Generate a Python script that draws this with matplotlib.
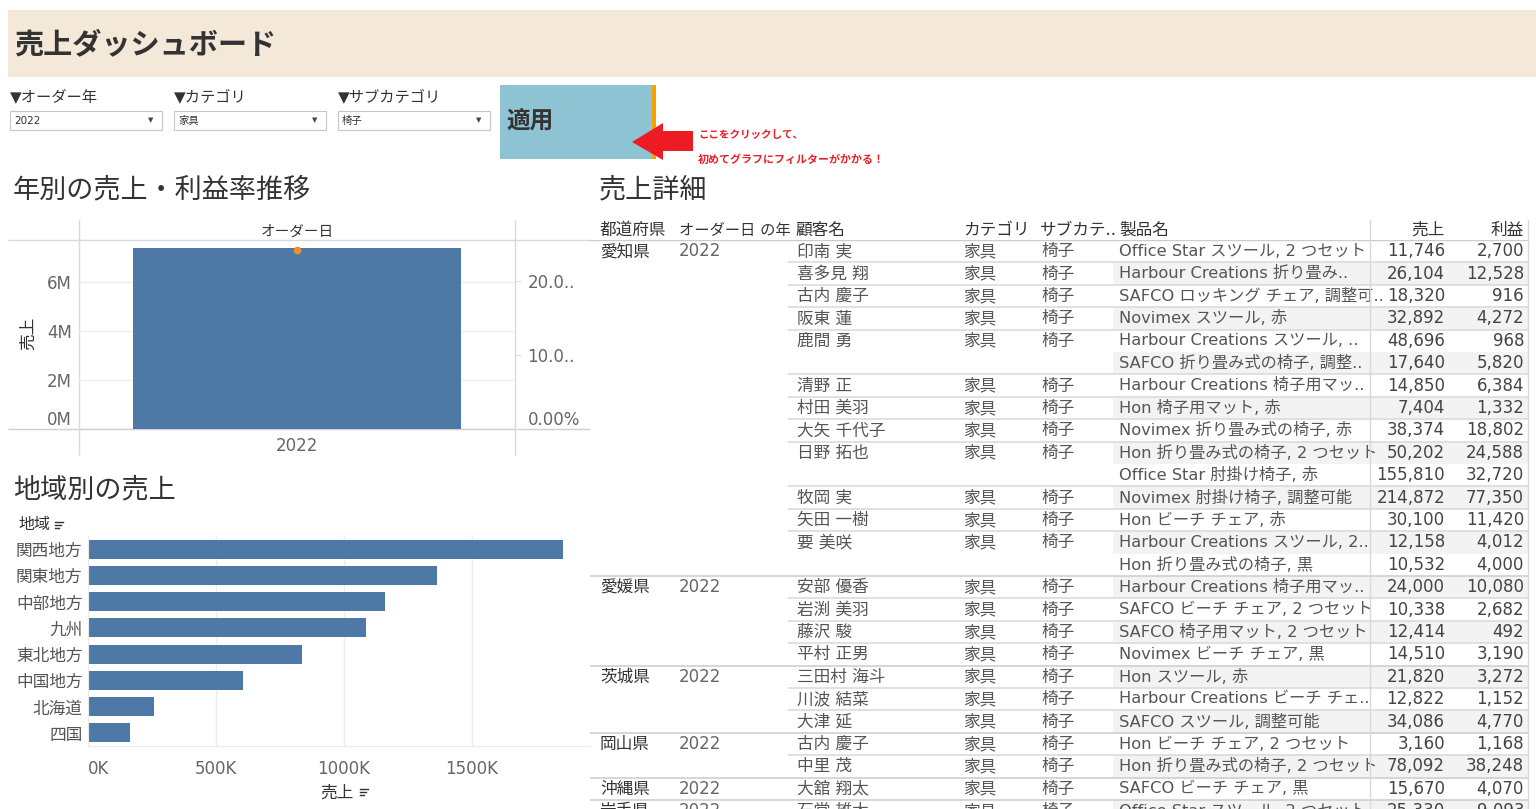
import matplotlib
matplotlib.use('Agg')
import matplotlib.pyplot as plt
from matplotlib.patches import Rectangle, Polygon

plt.rcParams['font.family'] = ['DejaVu Sans', 'Noto Sans CJK JP']

# ---------------- data ----------------
dashboard_title = '売上ダッシュボード'
filter_labels = ['▼オーダー年', '▼カテゴリ', '▼サブカテゴリ']
filter_values = ['2022', '家具', '椅子']

years = ['2022']
year_sales = [7.37e6]
year_profit_ratio = [0.242]
sales_ticks = [0, 2e6, 4e6, 6e6]
sales_tick_labels = ['0M', '2M', '4M', '6M']
ratio_ticks = [0, 0.1, 0.2]
ratio_tick_labels = ['0.00%', '10.0..', '20.0..']

regions = ['関西地方', '関東地方', '中部地方', '九州', '東北地方', '中国地方', '北海道', '四国']
region_sales = [1855e3, 1364e3, 1162e3, 1086e3, 837e3, 604e3, 258e3, 166e3]
region_ticks = [0, 500e3, 1000e3, 1500e3]
region_tick_labels = ['0K', '500K', '1000K', '1500K']

table_headers = ['都道府県', 'オーダー日 の年', '顧客名', 'カテゴリ', 'サブカテ..', '製品名', '売上', '利益']
prefectures = ['愛知県'] + [''] * 14 + ['愛媛県', '', '', '', '茨城県', '', '', '岡山県', '', '沖縄県', '岩手県']
order_years = ['2022' if p else '' for p in prefectures]
customers = ['印南 実', '喜多見 翔', '古内 慶子', '阪東 蓮', '鹿間 勇', '', '清野 正', '村田 美羽',
             '大矢 千代子', '日野 拓也', '', '牧岡 実', '矢田 一樹', '要 美咲', '',
             '安部 優香', '岩渕 美羽', '藤沢 駿', '平村 正男', '三田村 海斗', '川波 結菜', '大津 延',
             '古内 慶子', '中里 茂', '大舘 翔太', '石堂 雄大']
categories = ['家具' if c else '' for c in customers]
subcategories = ['椅子' if c else '' for c in customers]
products = ['Office Star スツール, 2 つセット', 'Harbour Creations 折り畳み..',
            'SAFCO ロッキング チェア, 調整可..', 'Novimex スツール, 赤',
            'Harbour Creations スツール, ..', 'SAFCO 折り畳み式の椅子, 調整..',
            'Harbour Creations 椅子用マッ..', 'Hon 椅子用マット, 赤',
            'Novimex 折り畳み式の椅子, 赤', 'Hon 折り畳み式の椅子, 2 つセット',
            'Office Star 肘掛け椅子, 赤', 'Novimex 肘掛け椅子, 調整可能',
            'Hon ビーチ チェア, 赤', 'Harbour Creations スツール, 2..',
            'Hon 折り畳み式の椅子, 黒', 'Harbour Creations 椅子用マッ..',
            'SAFCO ビーチ チェア, 2 つセット', 'SAFCO 椅子用マット, 2 つセット',
            'Novimex ビーチ チェア, 黒', 'Hon スツール, 赤',
            'Harbour Creations ビーチ チェ..', 'SAFCO スツール, 調整可能',
            'Hon ビーチ チェア, 2 つセット', 'Hon 折り畳み式の椅子, 2 つセット',
            'SAFCO ビーチ チェア, 黒', 'Office Star スツール, 2 つセット']
sales = [11746, 26104, 18320, 32892, 48696, 17640, 14850, 7404, 38374, 50202, 155810, 214872,
         30100, 12158, 10532, 24000, 10338, 12414, 14510, 21820, 12822, 34086, 3160, 78092,
         15670, 25330]
profits = [2700, 12528, 916, 4272, 968, 5820, 6384, 1332, 18802, 24588, 32720, 77350,
           11420, 4012, 4000, 10080, 2682, 492, 3190, 3272, 1152, 4770, 1168, 38248,
           4070, 9093]

# ---------------- layout helpers ----------------
W, H = 1536, 809
fig = plt.figure(figsize=(W / 100, H / 100), dpi=100)
fig.patch.set_facecolor('white')


def rect(x0, y0, x1, y1):
    return [x0 / W, 1 - y1 / H, (x1 - x0) / W, (y1 - y0) / H]


BLUE = '#4E79A7'
ORANGE = '#F28E2B'
DARK = '#333333'
GRAY = '#666666'
MID = '#555555'
LINE = '#D9D9D9'

ov = fig.add_axes([0, 0, 1, 1], zorder=0)
ov.set_xlim(0, W)
ov.set_ylim(H, 0)
ov.axis('off')


def hline(y, x0, x1, color=LINE, lw=1.0):
    ov.plot([x0, x1], [y, y], color=color, lw=lw, solid_capstyle='butt')


def vline(x, y0, y1, color=LINE, lw=1.0):
    ov.plot([x, x], [y0, y1], color=color, lw=lw, solid_capstyle='butt')


def sort_icon(x, y):
    for k, ln in enumerate([8, 6, 4]):
        ov.plot([x, x + ln], [y + k * 3, y + k * 3], color=DARK, lw=1.0)


# banner
ov.add_patch(Rectangle((8, 10), W - 8, 67, color='#F4E9D9', lw=0))
ov.text(14, 45, dashboard_title, fontsize=21, fontweight='bold', color=DARK,
        va='center', ha='left')

# filters
for k, (lab, val) in enumerate(zip(filter_labels, filter_values)):
    x0 = 10 + k * 164
    ov.text(x0, 97, lab, fontsize=11, color=DARK, va='center', ha='left')
    ov.add_patch(Rectangle((x0, 111), 152, 19, facecolor='white', edgecolor='#C6C6C6', lw=0.8))
    ov.text(x0 + 4, 121, val, fontsize=7.5, color=DARK, va='center', ha='left')
    ov.text(x0 + 141, 120.5, '▼', fontsize=5, color='#444444', va='center', ha='center')

# apply button
ov.add_patch(Rectangle((500, 85), 152, 74, color='#8DC3D2', lw=0))
ov.add_patch(Rectangle((652, 85), 4, 74, color='#F5A300', lw=0))
ov.text(506, 122, '適用', fontsize=17, fontweight='bold', color=DARK, va='center', ha='left')

# red arrow
ov.add_patch(Polygon([(632, 142), (663, 123), (663, 131), (693, 131), (693, 151),
                      (663, 151), (663, 160)], closed=True, color='#ED1C24', lw=0))
ov.text(698, 135, 'ここをクリックして、', fontsize=7.6, fontweight='bold', color='#E8202A',
        va='center', ha='left')
ov.text(698, 160, '初めてグラフにフィルターがかかる！', fontsize=7.9, fontweight='bold',
        color='#E8202A', va='center', ha='left')

# section titles
ov.text(13, 190, '年別の売上・利益率推移', fontsize=19.5, color=DARK, va='center', ha='left')
ov.text(13, 490, '地域別の売上', fontsize=19.5, color=DARK, va='center', ha='left')
ov.text(599, 190, '売上詳細', fontsize=19.5, color=DARK, va='center', ha='left')

# ---------------- yearly chart ----------------
hline(240, 8, 590)
hline(429, 8, 590, color='#CFCFCF')
vline(79, 220, 455)
vline(515, 220, 455)
ov.text(297, 231, 'オーダー日', fontsize=10.5, color=DARK, va='center', ha='center')
ov.text(28, 333, '売上', fontsize=12, color=DARK, va='center', ha='center', rotation=90)

ax1 = fig.add_axes(rect(79, 240, 515, 429), zorder=1)
ax1.set_facecolor('none')
ax1.bar(years, year_sales, width=0.752, color=BLUE, zorder=2)
ax1.set_xlim(-0.5, 0.5)
ax1.set_ylim(0, 7.71e6)
ax1.set_yticks(sales_ticks)
ax1.set_yticklabels(sales_tick_labels)
ax1.grid(axis='y', color='#EEEEEE', lw=1)
ax1.set_axisbelow(True)
for s in ax1.spines.values():
    s.set_visible(False)
ax1.tick_params(axis='y', length=0, pad=5, labelsize=12, labelcolor=GRAY)
ax1.tick_params(axis='x', length=0, pad=6, labelsize=12, labelcolor=GRAY)
ax1.get_yticklabels()[0].set_va('bottom')

ax1b = ax1.twinx()
ax1b.set_ylim(0, 0.255)
ax1b.plot([0], year_profit_ratio, 'o', color=ORANGE, ms=4.5, zorder=3)
ax1b.set_yticks(ratio_ticks)
ax1b.set_yticklabels(ratio_tick_labels)
for s in ax1b.spines.values():
    s.set_visible(False)
ax1b.tick_params(axis='y', length=4, color='#DDDDDD', pad=5, labelsize=12, labelcolor=GRAY)
ax1b.get_yticklabels()[0].set_va('bottom')

# ---------------- region chart ----------------
ov.text(18, 525, '地域', fontsize=11.5, color=DARK, va='center', ha='left')
sort_icon(55, 522)
ov.text(320, 793, '売上', fontsize=12, color=DARK, va='center', ha='left')
sort_icon(360, 789)

ax2 = fig.add_axes(rect(88, 536, 590, 746), zorder=1)
ax2.set_facecolor('none')
ax2.barh(regions, region_sales, height=0.72, color=BLUE, zorder=2)
ax2.set_ylim(7.5, -0.5)
ax2.set_xlim(0, 1961e3)
ax2.set_xticks(region_ticks)
ax2.set_xticklabels(region_tick_labels)
ax2.grid(axis='x', color='#EEEEEE', lw=1)
ax2.set_axisbelow(True)
for k, s in ax2.spines.items():
    s.set_visible(k in ('bottom', 'left'))
    s.set_color('#EAEAEA')
ax2.tick_params(axis='y', length=0, pad=4, labelsize=12, labelcolor=MID)
ax2.tick_params(axis='x', length=0, pad=10, labelsize=12, labelcolor=GRAY)
ax2.get_xticklabels()[0].set_ha('left')

# ---------------- table ----------------
ROW_H = 22.4
n_rows_vis = (H - 240) / ROW_H
tab = fig.add_axes(rect(590, 240, W, H), zorder=1)
tab.set_facecolor('none')
tab.set_xlim(590, W)
tab.set_ylim(n_rows_vis - 0.5, -0.5)
tab.axis('off')

hx = [600, 679, 795, 963, 1040, 1119]
hsize = [12, 11, 12, 12, 12, 12]
for x, h, fs in zip(hx, table_headers[:6], hsize):
    ov.text(x, 230, h, fontsize=fs, color=DARK, va='center', ha='left')
ov.text(1445, 230, table_headers[6], fontsize=12, color=DARK, va='center', ha='right')
ov.text(1524, 230, table_headers[7], fontsize=12, color=DARK, va='center', ha='right')

top_frac = (H - 220) / (H - 240)
tab.axvline(1370, 0, top_frac, color=LINE, lw=1, clip_on=False, zorder=4)
tab.axvline(1528, 0, top_frac, color=LINE, lw=1, clip_on=False, zorder=4)
tab.plot([590, 1528], [-0.5, -0.5], color='#CCCCCC', lw=1, zorder=3)

clip = Rectangle((1113, -1), 254, 40, transform=tab.transData)
for i in range(len(products)):
    if i % 2 == 1:
        tab.add_patch(Rectangle((1113, i - 0.5), 415, 1, color='#F3F3F3', lw=0, zorder=0))
    if i > 0 and customers[i]:
        x0 = 590 if prefectures[i] else 789
        tab.plot([x0, 1528], [i - 0.5, i - 0.5], color='#D0D0D0' if prefectures[i] else '#DCDCDC',
                 lw=1.2, zorder=3)
    kw = dict(fontsize=12, va='center', clip_on=True)
    tab.text(600, i, prefectures[i], color=DARK, ha='left', **kw)
    tab.text(679, i, order_years[i], color=GRAY, ha='left', **kw)
    tab.text(797, i, customers[i], color=MID, ha='left', **kw)
    tab.text(963, i, categories[i], color=MID, ha='left', **kw)
    tab.text(1041, i, subcategories[i], color=MID, ha='left', **kw)
    t = tab.text(1119, i, products[i], color=MID, ha='left', fontsize=11.7, va='center')
    t.set_clip_path(clip)
    tab.text(1445, i, f'{sales[i]:,}', color='#444444', ha='right', **kw)
    tab.text(1524, i, f'{profits[i]:,}', color='#444444', ha='right', **kw)

fig.savefig('out.png', dpi=100)
